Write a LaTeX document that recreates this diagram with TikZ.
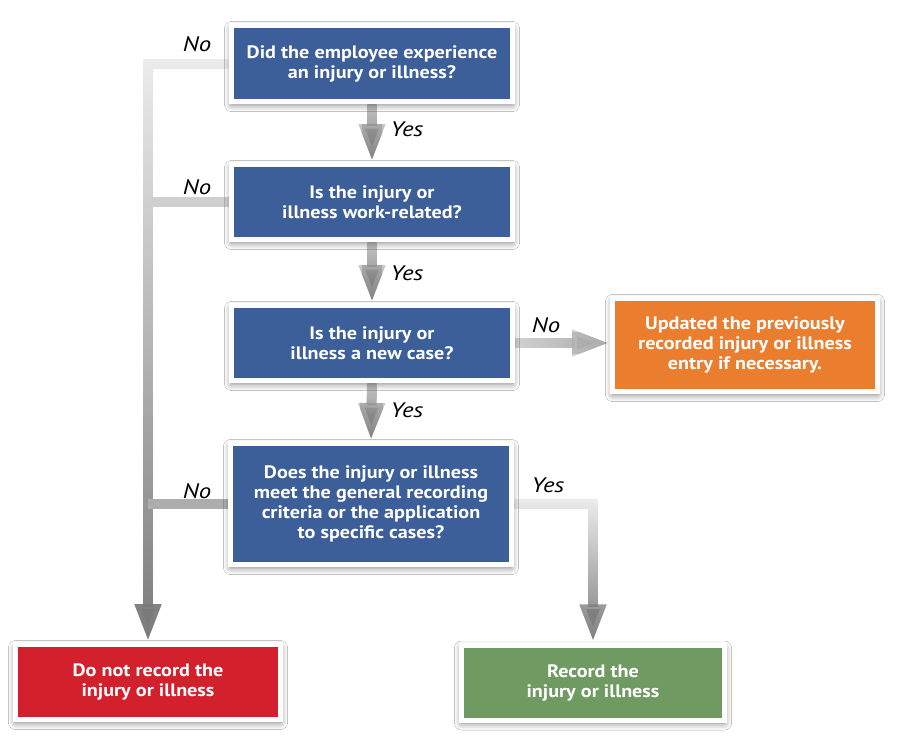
\documentclass[tikz,border=0pt]{standalone}
\usepackage{fontspec}
\setmainfont{PT Sans}[FakeStretch=1.12]
\newfontfamily\lblfont{PT Sans}[FakeStretch=1.18]
\usetikzlibrary{arrows.meta,fadings,shadows.blur,backgrounds}

\definecolor{qblue}{RGB}{60,94,153}
\definecolor{uorange}{RGB}{234,126,46}
\definecolor{nred}{RGB}{210,32,44}
\definecolor{rgreen}{RGB}{111,155,98}
\definecolor{flowlight}{RGB}{236,236,236}
\definecolor{flowmid}{RGB}{200,200,200}
\definecolor{flowdark}{RGB}{122,122,122}

\begin{document}
\begin{tikzpicture}[x=1pt, y=-1pt,
    box/.style={draw=white, line width=5pt, text=white, align=center, inner sep=0pt,
        font=\fontsize{18}{20}\selectfont\bfseries,
        blur shadow={shadow xshift=0pt, shadow yshift=-3pt, shadow blur radius=7pt, shadow opacity=55}},
    lbl/.style={font=\lblfont\fontsize{21}{22}\selectfont\itshape},
    flow/.style={line width=10pt, draw=#1, -{Triangle[width=24pt,length=38pt]},
        postaction={draw=flowdark, path fading=north}},
    flow/.default=flowmid,
    branch/.style={line width=10pt, draw=#1},
]
    \useasboundingbox (0,0) rectangle (897,750);

    % questions
    \node[box, fill=qblue, minimum width=281pt, minimum height=76pt] (q1) at (372,63.5)
        {Did the employee experience\\an injury or illness?};
    \node[box, fill=qblue, minimum width=281pt, minimum height=75pt] (q2) at (372,202)
        {Is the injury or\\illness work-related?};
    \node[box, fill=qblue, minimum width=281pt, minimum height=75pt] (q3) at (372,343)
        {Is the injury or\\illness a new case?};
    \node[box, fill=qblue, minimum width=281pt, minimum height=121pt] (q4) at (371,504)
        {Does the injury or illness\\meet the general recording\\criteria or the application\\to specific cases?};

    % outcomes
    \node[box, fill=uorange, minimum width=265pt, minimum height=93pt] (upd) at (745,345)
        {Updated the previously\\recorded injury or illness\\entry if necessary.};
    \node[box, fill=nred, minimum width=265pt, minimum height=75pt] (norec) at (148,682)
        {Do not record the\\injury or illness};
    \node[box, fill=rgreen, minimum width=263pt, minimum height=75pt] (rec) at (593,682.5)
        {Record the\\injury or illness};

    % arrows
    \begin{scope}[on background layer]
        \fill[white] (0,0) rectangle (897,750);
        \draw[flow=flowlight] (q1.west) -| (norec.north);
        \draw[branch=flowmid!80!flowlight] (q2.west) -- (q2.west -| norec.north);
        \draw[branch=flowmid!65!flowdark] (q4.west) -- (q4.west -| norec.north);
        \draw[flow] (q1.south) -- (q2.north);
        \draw[flow] (q2.south) -- (q3.north);
        \draw[flow] (q3.south) -- (q4.north);
        \draw[line width=10pt, draw=flowmid!70!flowlight, -{Triangle[width=24pt,length=38pt]},
            postaction={draw=flowmid!60!flowdark, path fading=west}] (q3.east) -- (q3.east -| upd.west);
        \draw[flow=flowlight] (q4.east) -| (rec.north);
    \end{scope}

    % labels
    \node[lbl] (no1) at (197,44) {No};
    \node[lbl] (yes1) at (407,129) {Yes};
    \node[lbl] (no2) at (197,187) {No};
    \node[lbl] (yes2) at (407,273) {Yes};
    \node[lbl] (no3) at (546,325) {No};
    \node[lbl] (yes3) at (407,410) {Yes};
    \node[lbl] (no4) at (197,491) {No};
    \node[lbl] (yes4) at (548,485) {Yes};
\end{tikzpicture}
\end{document}
